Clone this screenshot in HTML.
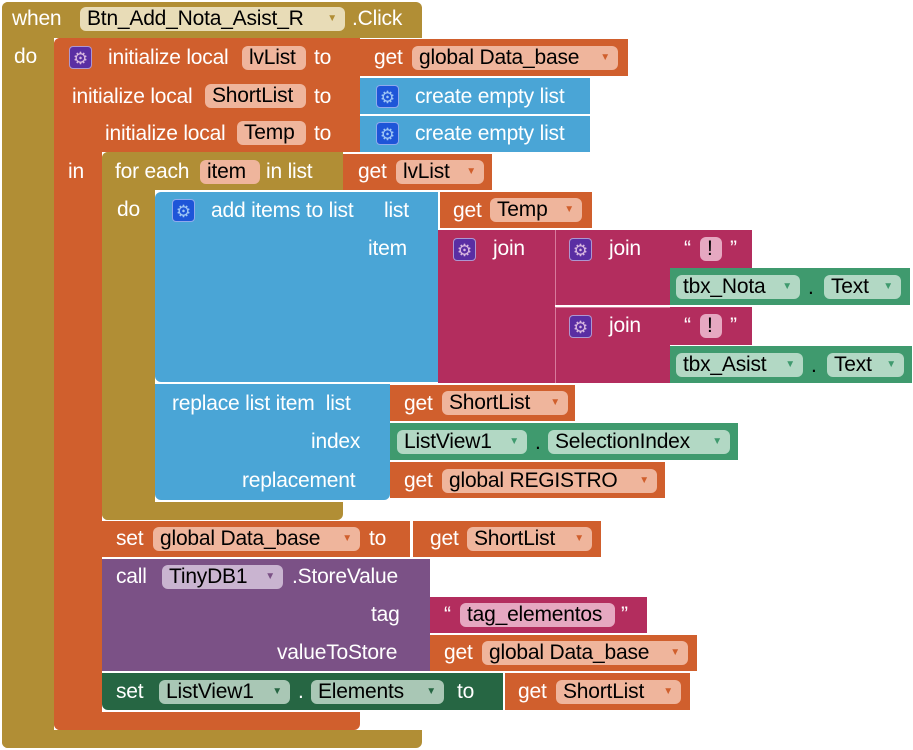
<!DOCTYPE html>
<html><head><meta charset="utf-8"><style>
body{margin:0;width:913px;height:750px;background:#fff;position:relative;overflow:hidden;font-family:"Liberation Sans",Arial,sans-serif;font-size:21px}
div{position:absolute;box-sizing:border-box}
.t{color:#fff;line-height:24px;margin-top:-1px;white-space:nowrap;letter-spacing:-0.2px}
.f{height:24px;border-radius:6px;line-height:24px;padding-left:7px;color:#000;white-space:nowrap;letter-spacing:-0.2px}
.a{font-size:10px;position:absolute;right:8px;top:0}
.g{width:23px;height:23px;border-radius:4px;color:#d9b8e0;font-size:17px;line-height:23px;text-align:center;border:1px solid rgba(255,255,255,.5)}
.gp{background:#5a2ea3}.gb{background:#1e55d8;color:#9fc6f5}
.ev{background:#b18e35}.or{background:#d05f2d}.bl{background:#4aa5d6}.mg{background:#b32d5e}.gr{background:#3f9a6e}.dg{background:#266643}.pu{background:#7b5186}
.fo{background:#efb59c}.fo .a{color:#d05f2d}
.fe{background:#e8dcb7}.fe .a{color:#b18e35}
.fg{background:#b2d8c4}.fg .a{color:#3f9a6e}
.fd{background:#a9c7b5}.fd .a{color:#266643}
.fp{background:#c9b4d0}.fp .a{color:#7b5186}
.fm{background:#e6a8c1}
</style></head><body>
<div class="ev" style="left:2px;top:2px;width:420px;height:36px;border-radius:6px 6px 0 0"></div>
<div class="ev" style="left:2px;top:2px;width:52px;height:746px;border-radius:6px 0 0 6px"></div>
<div class="ev" style="left:2px;top:730px;width:420px;height:18px;border-radius:0 0 6px 6px"></div>
<div class="t" style="left:12px;top:8px">when</div>
<div class="f fe" style="left:80px;top:7px;width:265px">Btn_Add_Nota_Asist_R<span class="a">▼</span></div>
<div class="t" style="left:352px;top:8px">.Click</div>
<div class="t" style="left:14px;top:46px">do</div>
<div class="or" style="left:54px;top:38px;width:306px;height:114px;border-radius:6px 0 0 0"></div>
<div class="or" style="left:54px;top:38px;width:48px;height:692px;border-radius:6px 0 0 6px"></div>
<div class="or" style="left:54px;top:712px;width:306px;height:18px;border-radius:0 0 6px 6px"></div>
<div class="g gp" style="left:69px;top:46px">⚙</div>
<div class="t" style="left:108px;top:47px">initialize local</div>
<div class="f fo" style="left:242px;top:46px;width:64px">lvList</div>
<div class="t" style="left:314px;top:47px">to</div>
<div class="t" style="left:72px;top:86px">initialize local</div>
<div class="f fo" style="left:205px;top:84px;width:101px">ShortList</div>
<div class="t" style="left:314px;top:86px">to</div>
<div class="t" style="left:105px;top:123px">initialize local</div>
<div class="f fo" style="left:237px;top:121px;width:69px">Temp</div>
<div class="t" style="left:314px;top:123px">to</div>
<div class="t" style="left:68px;top:161px">in</div>
<div class="or" style="left:360px;top:39px;width:268px;height:37px"></div>
<div class="t" style="left:374px;top:47px">get</div>
<div class="f fo" style="left:412px;top:46px;width:206px">global Data_base<span class="a">▼</span></div>
<div class="bl" style="left:360px;top:78px;width:230px;height:36px"></div>
<div class="g gb" style="left:376px;top:85px">⚙</div>
<div class="t" style="left:415px;top:86px">create empty list</div>
<div class="bl" style="left:360px;top:116px;width:230px;height:36px"></div>
<div class="g gb" style="left:376px;top:122px">⚙</div>
<div class="t" style="left:415px;top:123px">create empty list</div>
<div class="ev" style="left:102px;top:152px;width:241px;height:38px;border-radius:6px 0 0 0"></div>
<div class="ev" style="left:102px;top:152px;width:53px;height:368px;border-radius:6px 0 0 6px"></div>
<div class="ev" style="left:102px;top:502px;width:241px;height:18px;border-radius:0 0 6px 6px"></div>
<div class="t" style="left:115px;top:161px">for each</div>
<div class="f fo" style="left:200px;top:160px;width:60px">item</div>
<div class="t" style="left:266px;top:161px">in list</div>
<div class="or" style="left:343px;top:154px;width:149px;height:36px"></div>
<div class="t" style="left:358px;top:161px">get</div>
<div class="f fo" style="left:396px;top:160px;width:88px">lvList<span class="a">▼</span></div>
<div class="t" style="left:117px;top:199px">do</div>
<div class="bl" style="left:155px;top:192px;width:283px;height:190px;border-radius:6px 0 0 6px"></div>
<div class="g gb" style="left:172px;top:199px">⚙</div>
<div class="t" style="left:211px;top:200px">add items to list</div>
<div class="t" style="left:384px;top:200px">list</div>
<div class="t" style="left:368px;top:238px">item</div>
<div class="or" style="left:440px;top:192px;width:152px;height:36px"></div>
<div class="t" style="left:453px;top:200px">get</div>
<div class="f fo" style="left:490px;top:198px;width:92px">Temp<span class="a">▼</span></div>
<div class="mg" style="left:438px;top:230px;width:117px;height:153px"></div>
<div class="g gp" style="left:453px;top:238px">⚙</div>
<div class="t" style="left:493px;top:238px">join</div>
<div class="mg" style="left:555px;top:230px;width:115px;height:75px;border-left:1px solid #d77a9c"></div>
<div class="g gp" style="left:569px;top:238px">⚙</div>
<div class="t" style="left:609px;top:238px">join</div>
<div class="mg" style="left:555px;top:307px;width:115px;height:76px;border-left:1px solid #d77a9c;border-top:1px solid #d77a9c"></div>
<div class="g gp" style="left:569px;top:315px">⚙</div>
<div class="t" style="left:609px;top:315px">join</div>
<div class="mg" style="left:670px;top:230px;width:82px;height:38px"></div>
<div class="t" style="left:684px;top:238px">“</div>
<div class="f fm" style="left:700px;top:237px;width:22px">!</div>
<div class="t" style="left:730px;top:238px">”</div>
<div class="gr" style="left:670px;top:268px;width:240px;height:37px"></div>
<div class="f fg" style="left:676px;top:275px;width:124px">tbx_Nota<span class="a">▼</span></div>
<div class="t" style="left:808px;top:277px;color:#000">.</div>
<div class="f fg" style="left:824px;top:275px;width:77px">Text<span class="a">▼</span></div>
<div class="mg" style="left:670px;top:307px;width:82px;height:38px"></div>
<div class="t" style="left:684px;top:315px">“</div>
<div class="f fm" style="left:700px;top:314px;width:22px">!</div>
<div class="t" style="left:730px;top:315px">”</div>
<div class="gr" style="left:670px;top:346px;width:242px;height:37px"></div>
<div class="f fg" style="left:676px;top:353px;width:127px">tbx_Asist<span class="a">▼</span></div>
<div class="t" style="left:811px;top:355px;color:#000">.</div>
<div class="f fg" style="left:827px;top:353px;width:77px">Text<span class="a">▼</span></div>
<div class="bl" style="left:155px;top:384px;width:235px;height:116px;border-radius:0 0 6px 6px"></div>
<div class="t" style="left:172px;top:393px">replace list item &nbsp;list</div>
<div class="t" style="left:311px;top:431px">index</div>
<div class="t" style="left:242px;top:470px">replacement</div>
<div class="or" style="left:390px;top:385px;width:185px;height:36px"></div>
<div class="t" style="left:404px;top:393px">get</div>
<div class="f fo" style="left:442px;top:391px;width:126px">ShortList<span class="a">▼</span></div>
<div class="gr" style="left:390px;top:423px;width:348px;height:37px"></div>
<div class="f fg" style="left:397px;top:430px;width:130px">ListView1<span class="a">▼</span></div>
<div class="t" style="left:535px;top:432px;color:#000">.</div>
<div class="f fg" style="left:548px;top:430px;width:182px">SelectionIndex<span class="a">▼</span></div>
<div class="or" style="left:390px;top:462px;width:275px;height:36px"></div>
<div class="t" style="left:404px;top:470px">get</div>
<div class="f fo" style="left:442px;top:469px;width:215px">global REGISTRO<span class="a">▼</span></div>
<div class="or" style="left:102px;top:521px;width:308px;height:36px"></div>
<div class="t" style="left:116px;top:528px">set</div>
<div class="f fo" style="left:153px;top:527px;width:207px">global Data_base<span class="a">▼</span></div>
<div class="t" style="left:369px;top:528px">to</div>
<div class="or" style="left:413px;top:521px;width:188px;height:36px"></div>
<div class="t" style="left:430px;top:528px">get</div>
<div class="f fo" style="left:467px;top:527px;width:125px">ShortList<span class="a">▼</span></div>
<div class="pu" style="left:102px;top:559px;width:328px;height:112px"></div>
<div class="t" style="left:116px;top:566px">call</div>
<div class="f fp" style="left:162px;top:565px;width:121px">TinyDB1<span class="a">▼</span></div>
<div class="t" style="left:292px;top:566px">.StoreValue</div>
<div class="t" style="left:371px;top:604px">tag</div>
<div class="t" style="left:277px;top:642px">valueToStore</div>
<div class="mg" style="left:430px;top:597px;width:217px;height:36px"></div>
<div class="t" style="left:444px;top:604px">“</div>
<div class="f fm" style="left:460px;top:603px;width:155px">tag_elementos</div>
<div class="t" style="left:621px;top:604px">”</div>
<div class="or" style="left:430px;top:635px;width:267px;height:36px"></div>
<div class="t" style="left:444px;top:642px">get</div>
<div class="f fo" style="left:482px;top:641px;width:206px">global Data_base<span class="a">▼</span></div>
<div class="dg" style="left:102px;top:673px;width:401px;height:37px;border-radius:0 0 0 6px"></div>
<div class="t" style="left:116px;top:681px">set</div>
<div class="f fd" style="left:159px;top:680px;width:131px">ListView1<span class="a">▼</span></div>
<div class="t" style="left:298px;top:681px">.</div>
<div class="f fd" style="left:311px;top:680px;width:133px">Elements<span class="a">▼</span></div>
<div class="t" style="left:457px;top:681px">to</div>
<div class="or" style="left:505px;top:673px;width:185px;height:37px"></div>
<div class="t" style="left:518px;top:681px">get</div>
<div class="f fo" style="left:556px;top:680px;width:125px">ShortList<span class="a">▼</span></div>
</body></html>
